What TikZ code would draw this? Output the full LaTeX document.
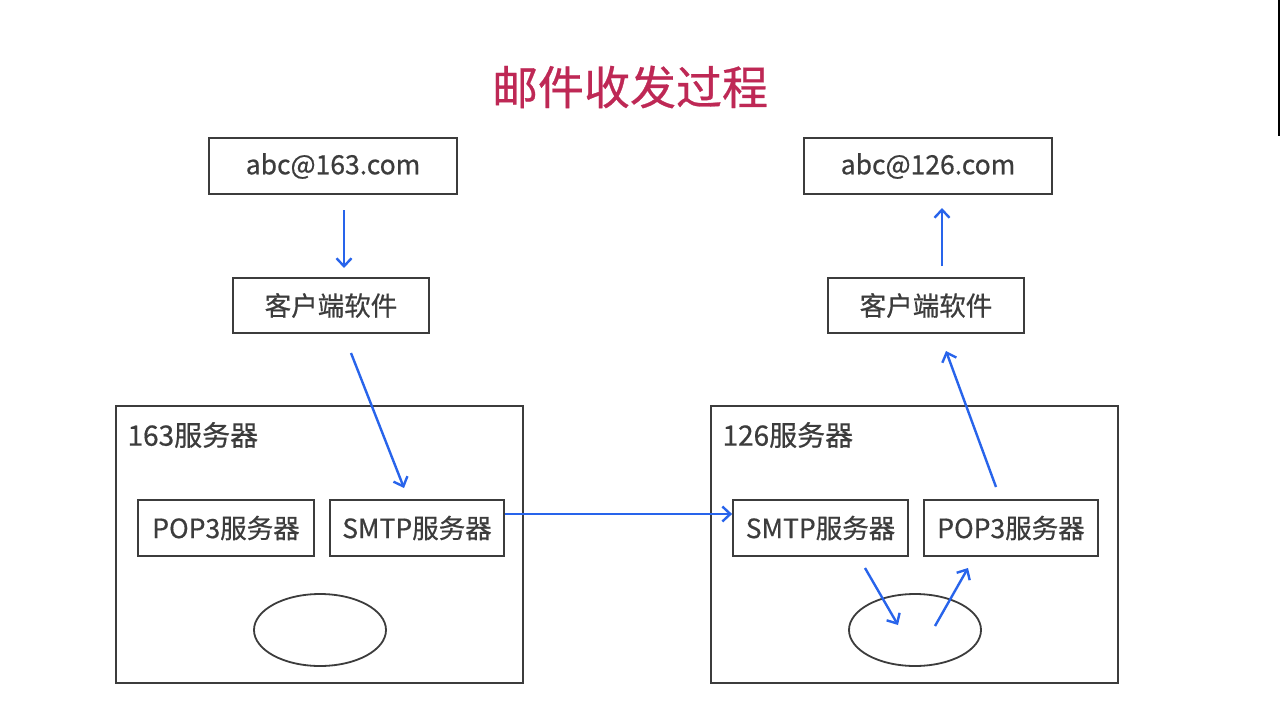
\documentclass[tikz,border=0pt]{standalone}
\usepackage{fontspec}
\setmainfont[FakeBold=0.6]{Noto Sans CJK SC}
\usetikzlibrary{arrows.meta}
\definecolor{titc}{RGB}{190,40,85}
\definecolor{arr}{RGB}{40,100,235}
\definecolor{bx}{RGB}{60,60,60}
\begin{document}
\begin{tikzpicture}[x=1pt,y=-1pt,
  box/.style={draw=bx,line width=1.8pt,inner sep=0pt,text=bx,font=\fontsize{26.5}{28}\selectfont},
  ar/.style={draw=arr,line width=2.4pt,-{Straight Barb[length=8pt,width=15pt]}}]
\useasboundingbox (0,0) rectangle (1280,720);
\fill[white] (0,0) rectangle (1280,720);
\draw[black,line width=1.5pt] (1279,0) -- (1279,136);
\node[text=titc,font=\fontsize{46}{50}\selectfont] (title) at (630,87) {邮件收发过程};
\node[box,minimum width=248pt,minimum height=56pt] (m1) at (333,166) {abc@163.com};
\node[box,minimum width=248pt,minimum height=56pt] (m2) at (928,166) {abc@126.com};
\node[box,minimum width=196pt,minimum height=55pt] (c1) at (331,305.5) {客户端软件};
\node[box,minimum width=196pt,minimum height=55pt] (c2) at (926,305.5) {客户端软件};
\node[box,minimum width=407pt,minimum height=277pt] (s1) at (319.5,544.5) {};
\node[box,minimum width=407pt,minimum height=277pt] (s2) at (914.5,544.5) {};
\node[text=bx,font=\fontsize{28}{30}\selectfont,anchor=west] (l1) at (124,435) {163服务器};
\node[text=bx,font=\fontsize{28}{30}\selectfont,anchor=west] (l2) at (719,435) {126服务器};
\node[box,minimum width=176pt,minimum height=56pt] (p1) at (226,528) {POP3服务器};
\node[box,minimum width=174pt,minimum height=56pt] (t1) at (417,528) {SMTP服务器};
\node[box,minimum width=175pt,minimum height=56pt] (t2) at (820.5,528) {SMTP服务器};
\node[box,minimum width=174pt,minimum height=56pt] (p2) at (1011,528) {POP3服务器};
\draw[bx,line width=1.8pt] (320,630) ellipse [x radius=66,y radius=36];
\draw[bx,line width=1.8pt] (915,630) ellipse [x radius=66,y radius=36];
\coordinate (e1) at (898,625);
\coordinate (e2) at (935,626);
\draw[ar] (344,210) -- (344,268);
\draw[ar] (351,353) -- (404,488);
\draw[ar] ([yshift=14pt]t1.east) -- ([yshift=14pt]t2.west);
\draw[ar] (865,568) -- (e1);
\draw[ar] (e2) -- (968,568);
\draw[ar] (996,487) -- (946,351);
\draw[ar] (942,266) -- (942,208);
\end{tikzpicture}
\end{document}
